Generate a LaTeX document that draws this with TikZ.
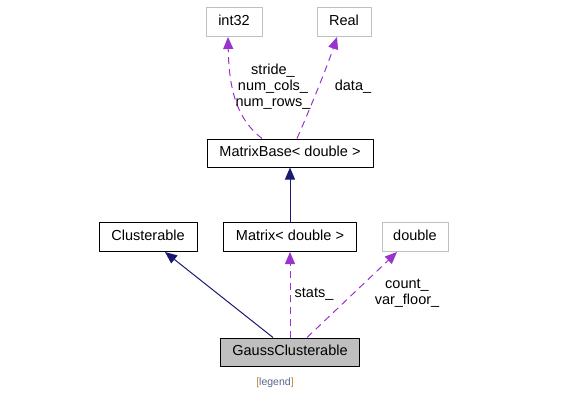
\documentclass[tikz,border=0pt]{standalone}
\usepackage{fontspec}
\setmainfont{Liberation Sans}
\usetikzlibrary{arrows.meta}
\definecolor{qqqqbl}{rgb}{0.098,0.098,0.439}
\definecolor{qqpurp}{rgb}{0.604,0.196,0.804}
\definecolor{qqgrey}{rgb}{0.75,0.75,0.75}
\definecolor{qqlink}{rgb}{0.35,0.40,0.55}
\definecolor{qqbrak}{rgb}{0.78,0.52,0.20}
\tikzset{
  cls/.style={draw=black,line width=1pt,inner sep=0pt,text height=10pt,text depth=3pt,font=\fontsize{14.5}{16}\selectfont},
  ext/.style={cls,draw=qqgrey},
  inherit/.style={draw=qqqqbl,line width=1pt,-{Triangle[length=12pt,width=10pt]}},
  usage/.style={draw=qqpurp,line width=1pt,dash pattern=on 7pt off 5pt,-{Triangle[length=12pt,width=10pt,fill=qqpurp]}},
  lbl/.style={align=center,inner sep=0pt,font=\fontsize{14.5}{16}\selectfont}
}
\begin{document}
\begin{tikzpicture}[line cap=butt,line join=round,x=1.0pt,y=-1.0pt]
\useasboundingbox (0,0) rectangle (576,418);
% classes
\node[ext,minimum width=56,minimum height=29] (int32) at (234,22) {int32};
\node[ext,minimum width=54,minimum height=29] (real) at (344,22) {Real};
\node[cls,minimum width=166,minimum height=28] (mbase) at (290,153) {MatrixBase< double >};
\node[cls,minimum width=98,minimum height=29] (clust) at (148,237) {Clusterable};
\node[cls,minimum width=133,minimum height=29] (matrix) at (290,237) {Matrix< double >};
\node[ext,minimum width=66,minimum height=29] (dbl) at (415,237) {double};
\node[cls,fill=qqgrey,minimum width=139,minimum height=28] (gauss) at (290,352) {GaussClusterable};
\node[inner sep=0pt,font=\fontsize{10.5}{12}\selectfont] (legend) at (275,383) {\textcolor{qqbrak}{[}\textcolor{qqlink}{legend}\textcolor{qqbrak}{]}};
% edges
\draw[usage] ([xshift=-28pt]mbase.north) .. controls (238,120) and (229,92) .. ([xshift=-6pt]int32.south);
\draw[usage] ([xshift=7pt]mbase.north) .. controls (306,118) and (326,70) .. ([xshift=-7pt]real.south);
\draw[inherit] (matrix) -- (mbase);
\draw[inherit] ([xshift=-17pt]gauss.north) -- ([xshift=17pt]clust.south);
\draw[usage] (gauss) -- (matrix);
\draw[usage] ([xshift=17pt]gauss.north) -- ([xshift=-18pt]dbl.south);
% labels
\node[lbl] (lint) at (273,87) {stride\_\\num\_cols\_\\num\_rows\_};
\node[lbl] (lreal) at (353,87) {data\_};
\node[lbl] (lstats) at (314,294) {stats\_};
\node[lbl] (ldbl) at (407,293) {count\_\\var\_floor\_};
\end{tikzpicture}
\end{document}
